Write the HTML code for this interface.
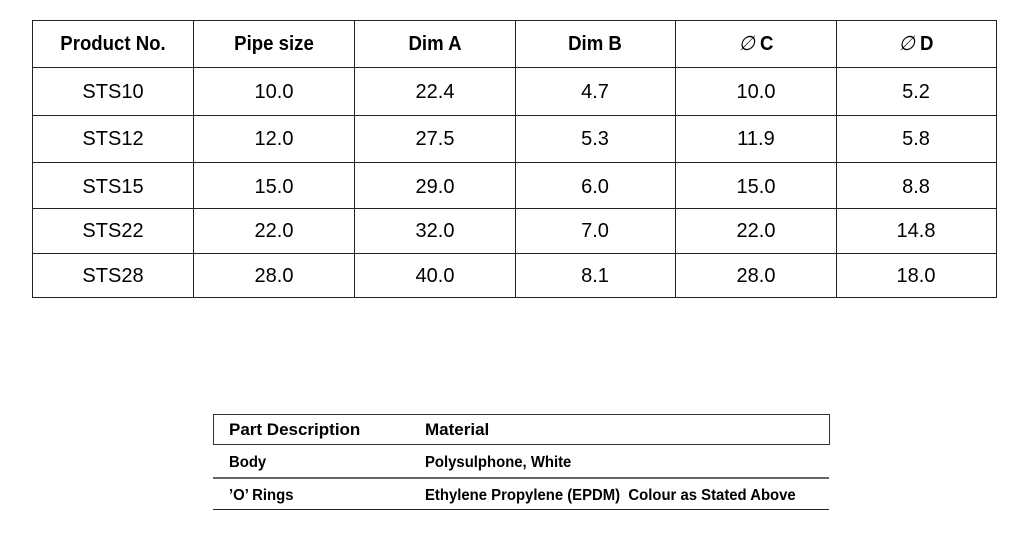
<!DOCTYPE html>
<html><head><style>
body{margin:0;width:1024px;height:547px;background:#fff;position:relative;font-family:"Liberation Sans",sans-serif;color:#000;overflow:hidden}
.h{position:absolute;border-color:#222;}
.c{position:absolute;text-align:center;width:160px;font-size:20px;line-height:20px}
.b{font-weight:bold;font-size:20px;transform:scaleX(0.93)}
.s{position:absolute;font-size:16px;font-weight:bold;line-height:16px;transform-origin:left;transform:scaleX(0.93);white-space:nowrap}
</style></head><body>
<div style="position:absolute;left:32px;top:20px;width:963px;height:276px;border:1px solid #222"></div>
<div class="h" style="left:32px;top:67px;width:964px;border-top:1px solid #222"></div>
<div class="h" style="left:32px;top:115px;width:964px;border-top:1px solid #222"></div>
<div class="h" style="left:32px;top:162px;width:964px;border-top:1px solid #222"></div>
<div class="h" style="left:32px;top:208px;width:964px;border-top:1px solid #222"></div>
<div class="h" style="left:32px;top:253px;width:964px;border-top:1px solid #222"></div>
<div class="h" style="left:193px;top:20px;height:277px;border-left:1px solid #222"></div>
<div class="h" style="left:354px;top:20px;height:277px;border-left:1px solid #222"></div>
<div class="h" style="left:515px;top:20px;height:277px;border-left:1px solid #222"></div>
<div class="h" style="left:675px;top:20px;height:277px;border-left:1px solid #222"></div>
<div class="h" style="left:836px;top:20px;height:277px;border-left:1px solid #222"></div>

<div class="c b" style="left:33px;top:34px">Product No.</div>
<div class="c b" style="left:194px;top:34px">Pipe size</div>
<div class="c b" style="left:355px;top:34px">Dim A</div>
<div class="c b" style="left:515px;top:34px">Dim B</div>
<div class="c b" style="left:676px;top:34px"><span style="font-weight:normal;font-style:italic">∅</span> C</div>
<div class="c b" style="left:836px;top:34px"><span style="font-weight:normal;font-style:italic">∅</span> D</div>

<div class="c" style="left:33px;top:82px">STS10</div><div class="c" style="left:194px;top:82px">10.0</div><div class="c" style="left:355px;top:82px">22.4</div><div class="c" style="left:515px;top:82px">4.7</div><div class="c" style="left:676px;top:82px">10.0</div><div class="c" style="left:836px;top:82px">5.2</div>
<div class="c" style="left:33px;top:129px">STS12</div><div class="c" style="left:194px;top:129px">12.0</div><div class="c" style="left:355px;top:129px">27.5</div><div class="c" style="left:515px;top:129px">5.3</div><div class="c" style="left:676px;top:129px">11.9</div><div class="c" style="left:836px;top:129px">5.8</div>
<div class="c" style="left:33px;top:177px">STS15</div><div class="c" style="left:194px;top:177px">15.0</div><div class="c" style="left:355px;top:177px">29.0</div><div class="c" style="left:515px;top:177px">6.0</div><div class="c" style="left:676px;top:177px">15.0</div><div class="c" style="left:836px;top:177px">8.8</div>
<div class="c" style="left:33px;top:221px">STS22</div><div class="c" style="left:194px;top:221px">22.0</div><div class="c" style="left:355px;top:221px">32.0</div><div class="c" style="left:515px;top:221px">7.0</div><div class="c" style="left:676px;top:221px">22.0</div><div class="c" style="left:836px;top:221px">14.8</div>
<div class="c" style="left:33px;top:266px">STS28</div><div class="c" style="left:194px;top:266px">28.0</div><div class="c" style="left:355px;top:266px">40.0</div><div class="c" style="left:515px;top:266px">8.1</div><div class="c" style="left:676px;top:266px">28.0</div><div class="c" style="left:836px;top:266px">18.0</div>

<div style="position:absolute;left:213px;top:414px;width:615px;height:29px;border:1px solid #333"></div>
<div class="h" style="left:213px;top:477px;width:616px;border-top:2px solid #666"></div>
<div class="h" style="left:213px;top:509px;width:616px;border-top:1px solid #222"></div>
<div class="s" style="left:229px;top:422px;font-size:17px;transform:scaleX(1)">Part Description</div>
<div class="s" style="left:425px;top:422px;font-size:17px;transform:scaleX(1)">Material</div>
<div class="s" style="left:229px;top:455px">Body</div>
<div class="s" style="left:425px;top:455px">Polysulphone, White</div>
<div class="s" style="left:229px;top:488px">’O’ Rings</div>
<div class="s" style="left:425px;top:488px">Ethylene Propylene (EPDM)&nbsp; Colour as Stated Above</div>
</body></html>
